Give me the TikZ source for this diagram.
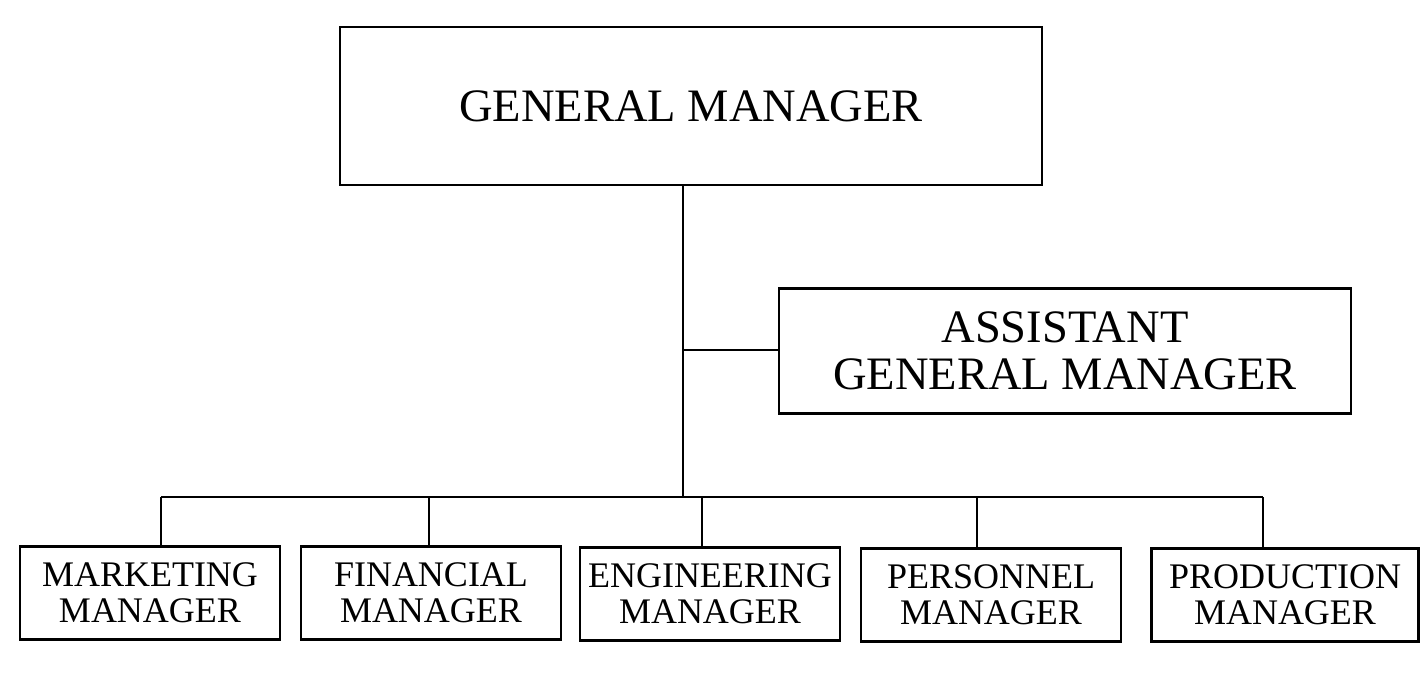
\documentclass[tikz,border=0pt]{standalone}
\usepackage{fontspec}
\setmainfont{Liberation Serif}
\begin{document}
\begin{tikzpicture}[x=1pt,y=-1pt,line width=2.5pt,
 box/.style={draw,inner sep=0pt,align=center},
 big/.style={font=\fontsize{46.5}{47}\selectfont},
 small/.style={font=\fontsize{36}{36}\selectfont}]
\useasboundingbox (0,0) rectangle (1423,677);
\node[box,big,minimum width=702,minimum height=158] (gm) at (691,106) {GENERAL MANAGER};
\node[box,big,minimum width=572,minimum height=125] (agm) at (1065,351) {ASSISTANT\\GENERAL MANAGER};
\node[box,small,minimum width=260,minimum height=93] (mk) at (150,593) {MARKETING\\MANAGER};
\node[box,small,minimum width=260,minimum height=93] (fi) at (431,593) {FINANCIAL\\MANAGER};
\node[box,small,minimum width=260,minimum height=93] (en) at (710,594) {ENGINEERING\\MANAGER};
\node[box,small,minimum width=260,minimum height=93] (pe) at (991,595) {PERSONNEL\\MANAGER};
\node[box,small,minimum width=267,minimum height=93] (pr) at (1285,595) {PRODUCTION\\MANAGER};
\coordinate (j) at (683,497);
\coordinate (a) at (683,350);
\draw (gm.south -| j) -- (j);
\draw (a) -- (agm.west |- a);
\draw (161,497) -- (1263,497);
\draw (161,497) -- (161,546.5);
\draw (429,497) -- (429,546.5);
\draw (702,497) -- (702,547.5);
\draw (977,497) -- (977,548.5);
\draw (1263,497) -- (1263,548.5);
\end{tikzpicture}
\end{document}
